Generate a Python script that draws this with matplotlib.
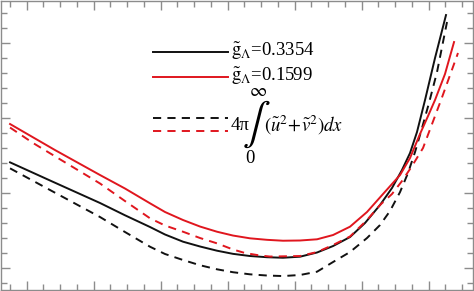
import numpy as np
import matplotlib
matplotlib.use("Agg")
import matplotlib.pyplot as plt
from matplotlib.ticker import MultipleLocator

plt.rcParams['font.family'] = ['Liberation Serif', 'DejaVu Serif']
plt.rcParams['mathtext.fontset'] = 'stix'

# curves (arbitrary units, the source shows no tick labels)
x_black = [0.751, 1.348, 2.094, 2.467, 2.840, 3.064, 3.333, 3.587, 3.840, 4.079, 4.333, 4.587, 4.825,
           5.079, 5.333, 5.572, 5.825, 6.049, 6.273, 6.452, 6.601, 6.721, 6.825, 6.945, 7.094, 7.258]
y_black = [1.405, 1.163, 0.863, 0.699, 0.543, 0.443, 0.347, 0.283, 0.227, 0.185, 0.156, 0.140, 0.133,
           0.147, 0.203, 0.289, 0.409, 0.596, 0.836, 1.063, 1.303, 1.529, 1.809, 2.236, 2.796, 3.369]

x_black_int = [0.751, 1.348, 2.094, 2.467, 2.840, 3.064, 3.333, 3.587, 3.840, 4.079, 4.333, 4.587, 4.825, 5.079,
               5.333, 5.572, 5.825, 6.079, 6.273, 6.422, 6.572, 6.691, 6.796, 6.900, 7.004, 7.124, 7.273]
y_black_int = [1.325, 1.036, 0.676, 0.476, 0.280, 0.183, 0.103, 0.033, -0.021, -0.060, -0.088, -0.104, -0.111,
               -0.097, -0.053, 0.076, 0.209, 0.396, 0.569, 0.756, 1.009, 1.263, 1.543, 1.863, 2.196, 2.609, 3.276]

x_red = [0.751, 1.422, 2.094, 2.467, 2.840, 3.064, 3.333, 3.587, 3.840, 4.079, 4.333, 4.587, 4.825,
         5.079, 5.333, 5.572, 5.825, 6.079, 6.318, 6.572, 6.721, 6.870, 6.990, 7.094, 7.243, 7.378]
y_red = [1.916, 1.569, 1.236, 1.056, 0.859, 0.743, 0.636, 0.549, 0.480, 0.429, 0.392, 0.372, 0.360,
         0.363, 0.379, 0.436, 0.547, 0.743, 0.983, 1.236, 1.463, 1.783, 2.023, 2.236, 2.583, 3.009]

x_red_int = [0.751, 1.094, 2.094, 2.467, 2.840, 3.064, 3.333, 3.587, 3.840, 4.079, 4.258, 4.482, 4.631,
             5.079, 5.333, 5.572, 5.825, 6.079, 6.273, 6.452, 6.601, 6.751, 6.915, 7.184, 7.437]
y_red_int = [1.869, 1.663, 1.123, 0.889, 0.659, 0.563, 0.480, 0.396, 0.325, 0.243, 0.196, 0.163, 0.149,
             0.156, 0.209, 0.303, 0.416, 0.636, 0.836, 0.983, 1.156, 1.356, 1.596, 2.236, 2.863]

labels = [r'$\tilde{\mathrm{g}}_{\Lambda}$=0.3354', r'$\tilde{\mathrm{g}}_{\Lambda}$=0.1599']

black = '#111111'
red = '#e0161e'
grey = '#8c8c8c'
W, H = 474, 291

fig = plt.figure(figsize=(W / 100, H / 100), dpi=100)
ax = fig.add_axes([1 / W, 1 / H, 472 / W, 289.5 / H])

lw = 1.4
dash = (0, (4.2, 3.2))
ax.plot(x_black, y_black, color=black, lw=lw)
ax.plot(x_black_int, y_black_int, color=black, lw=lw, ls=dash)
ax.plot(x_red, y_red, color=red, lw=lw)
ax.plot(x_red_int, y_red_int, color=red, lw=lw, ls=dash)

ax.set_xlim(0.616, 7.661)
ax.set_ylim(-0.297, 3.563)
ax.xaxis.set_major_locator(MultipleLocator(1))
ax.xaxis.set_minor_locator(MultipleLocator(0.25))
ax.yaxis.set_major_locator(MultipleLocator(1))
ax.yaxis.set_minor_locator(MultipleLocator(0.2))
ax.tick_params(which='both', direction='in', top=True, right=True,
               labelbottom=False, labelleft=False, color=grey, width=1)
ax.tick_params(which='major', length=6.5)
ax.tick_params(which='minor', length=4)
for s in ax.spines.values():
    s.set_color(grey)
    s.set_linewidth(1)


def fx(p):
    return p / W


def fy(p):
    return 1 - p / H


# hand-made legend
tf = fig.transFigure
ax.plot([fx(153), fx(228)], [fy(51.7)] * 2, color=black, lw=lw, transform=tf, clip_on=False)
ax.plot([fx(153), fx(228)], [fy(76.7)] * 2, color=red, lw=lw, transform=tf, clip_on=False)
ax.plot([fx(153), fx(228)], [fy(118.3)] * 2, color=black, lw=lw, ls=dash, transform=tf, clip_on=False)
ax.plot([fx(153), fx(228)], [fy(131)] * 2, color=red, lw=lw, ls=dash, transform=tf, clip_on=False)

fs = 13.5
fig.text(fx(231), fy(51), labels[0], fontsize=fs, va='center', ha='left')
fig.text(fx(231), fy(76), labels[1], fontsize=fs, va='center', ha='left')

fig.text(fx(231), fy(125), '4π', fontsize=fs, va='center', ha='left')
fig.text(fx(256), fy(124), r'$\int$', fontsize=30, va='center', ha='center')
fig.text(fx(258), fy(91), r'$\infty$', fontsize=fs, va='center', ha='center')
fig.text(fx(250), fy(159), '0', fontsize=fs, va='center', ha='center')
fig.text(fx(264), fy(125), r'$(\tilde{u}^2\!+\!\tilde{v}^2)dx$', fontsize=fs, va='center', ha='left')

fig.savefig('out.png', dpi=100)
